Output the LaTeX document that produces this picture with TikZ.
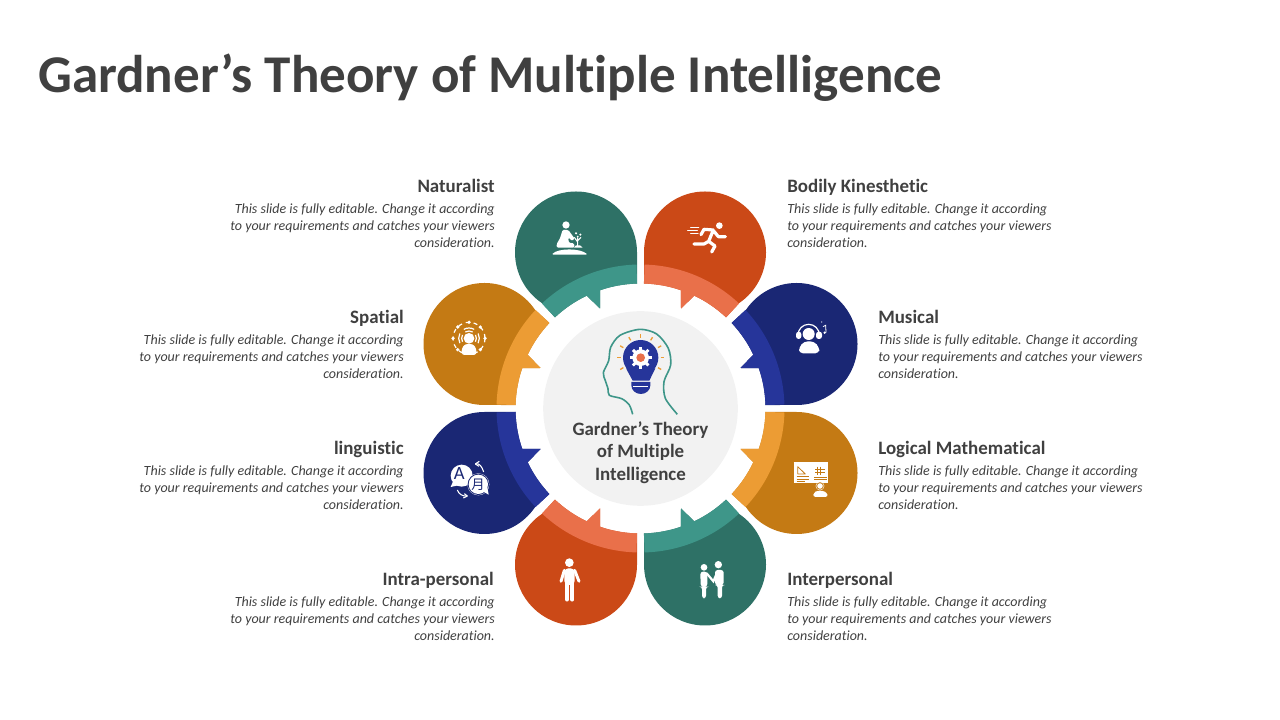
\documentclass[tikz,border=0pt]{standalone}
\usepackage{fontspec}
\setmainfont[Ligatures=NoCommon]{Carlito}
\newfontfamily\cjk{Noto Sans CJK SC}
\usetikzlibrary{positioning}
\definecolor{inktext}{HTML}{404040}
\definecolor{redDark}{HTML}{CB4917}
\definecolor{redLite}{HTML}{E9704A}
\definecolor{greenDark}{HTML}{2E7166}
\definecolor{greenLite}{HTML}{3E9689}
\definecolor{navyDark}{HTML}{1A2774}
\definecolor{navyLite}{HTML}{26359A}
\definecolor{goldDark}{HTML}{C47A14}
\definecolor{goldLite}{HTML}{EC9C34}
\definecolor{hubGrey}{HTML}{F2F2F2}
\newcommand{\bodytext}{This slide is fully editable. Change it according\\to your requirements and catches your viewers\\consideration.}
% rim of a petal, in the frame of the top right one
\newcommand{\innerrim}{(46.8:125) arc[start angle=46.8, end angle=64.5, radius=125] -- (40.5,100) -- (71.2:125) arc[start angle=71.2, end angle=88.4, radius=125]}
\tikzset{
  headbase/.style={font=\fontsize{14.2}{16}\selectfont\bfseries, text=inktext, inner sep=0pt, text height=9pt, text depth=3pt},
  headright/.style={headbase, anchor=east},
  headleft/.style={headbase, anchor=west},
  bodybase/.style={font=\fontsize{10.5}{12.75}\selectfont\itshape, text=inktext, inner sep=0pt},
  bodyright/.style={bodybase, align=right, anchor=north east},
  bodyleft/.style={bodybase, align=left, anchor=north west},
  crop/.style 2 args={shift={(#1,720-#2)}, x=.25pt, y=-.25pt},
  icon/.style={draw=white, line cap=round, line join=round, line width=2.4pt},
}
\begin{document}
\begin{tikzpicture}[x=.75pt, y=.75pt]
  \useasboundingbox (0,0) rectangle (1280,720);
  % Title
  \node[anchor=west, inner sep=0pt, font=\fontsize{39.8}{48}\selectfont\bfseries, text=inktext]
    (title) at (38,642) {Gardner’s Theory of Multiple Intelligence};

  % Petals
  \foreach \ma/\mb/\mc/\md/\dark/\lite in {
      1/0/0/1/redDark/redLite, 0/1/1/0/navyDark/navyLite,
      0/-1/1/0/goldDark/goldLite, 1/0/0/-1/greenDark/greenLite,
      -1/0/0/-1/redDark/redLite, 0/-1/-1/0/navyDark/navyLite,
      0/1/-1/0/goldDark/goldLite, -1/0/0/1/greenDark/greenLite} {
    \begin{scope}[shift={(640.5,311.5)}, cm={\ma,\mb,\mc,\md,(0,0)}]
      \fill[\dark] (3.5,156) arc[start angle=180, end angle=-56, radius=61]
        -- \innerrim -- cycle;
      \fill[\lite] (88.4:144) arc[start angle=88.4, end angle=46.8, radius=144]
        -- \innerrim -- cycle;
    \end{scope}
  }

  % Hub
  \node[circle, fill=hubGrey, minimum size=146pt, inner sep=0pt] (hub) at (640.5,311.5) {};
  \node[font=\fontsize{14.2}{16.9}\selectfont\bfseries, text=inktext, align=center, inner sep=0pt]
    (hubtext) at (640.5,267.5) {Gardner’s Theory\\of Multiple\\Intelligence};

  % Hub icon
  \begin{scope}[crop={540}{310}]
    \draw[greenLite, line width=1.2pt, line join=round] plot[smooth, tension=.5] coordinates {
      (278,313) (268,285) (245,266) (208,256) (204,236) (196,212) (190,188) (206,152)
      (212,112) (240,76) (300,58) (350,72) (385,115) (392,165) (372,215) (376,265) (412,313)};
    \foreach \ang in {-30,0,30,60,90,120,150,180,210}
      \draw[goldLite, line width=1pt] (302,143) ++(-\ang:60) -- ++(-\ang:11);
    \fill[navyLite] (302,143) circle[radius=53];
    \fill[navyLite] (258,175) -- (346,175) -- (328,212) -- (278,212) -- cycle;
    \fill[navyLite] (274,216) -- (331,216) -- (331,226) arc[start angle=0, end angle=180, x radius=28.5, y radius=26] -- cycle;
    \draw[white, line width=1pt] (280,229) -- (324,229);
    \foreach \ang in {0,45,...,315}
      \draw[white, line width=2.2pt] (302,143) ++(\ang:22) -- ++(\ang:11);
    \fill[white] (302,143) circle[radius=25];
    \fill[redLite] (302,143) circle[radius=13];
  \end{scope}

  % Naturalist icon
  \begin{scope}[crop={500}{180}]
    \fill[white] (198,135) circle[radius=11];
    \fill[white, rounded corners=1pt] (188,149) -- (205,150) -- (224,176) -- (216,183) -- (205,172)
      -- (206,188) -- (222,190) -- (224,203) -- (170,203) -- (170,192) -- (180,175) -- cycle;
    \fill[white, rounded corners=1pt] (155,224) .. controls (175,204) and (240,204) .. (263,224) -- cycle;
    \fill[white] (222,203) -- (248,203) -- (240,196) -- (228,196) -- cycle;
    \draw[white, line width=.8pt] (233,198) -- (233,172) (233,186) -- (223,172) (233,182) -- (243,172);
    \fill[white] (228,160) circle[radius=3.5] (241,164) circle[radius=3.5] (233,170) circle[radius=3];
  \end{scope}

  % Bodily kinesthetic icon
  \begin{scope}[crop={500}{180}]
    \fill[white] (658,137) circle[radius=10];
    \draw[icon] (640,150) -- (626,184) (640,150) -- (612,148) -- (603,164)
      (642,154) -- (655,170) -- (676,170) (626,184) -- (612,192) -- (582,192)
      (626,184) -- (645,198) -- (635,216);
    \draw[white, line width=.9pt, line cap=round] (572,143) -- (596,143) (563,152) -- (592,152) (572,160) -- (594,160);
  \end{scope}

  % Spatial and linguistic icons
  \begin{scope}[crop={410}{270}]
    \fill[white] (177,205) circle[radius=16];
    \fill[white, rounded corners=2pt] (155,255) -- (155,235) -- (165,222) -- (189,222) -- (199,235) -- (199,255) -- cycle;
    \draw[white, line width=.9pt, dashed] (177,205) circle[radius=48];
    \foreach \ang in {45,0,-45,-90,-135,180,135}
      \fill[white] (177,205) ++(\ang:48) circle[radius=5.5];
    \foreach \rad in {22,31} {
      \draw[white, line width=.9pt] (177,205) ++(-60:\rad) arc[start angle=-60, end angle=-120, radius=\rad];
      \draw[white, line width=.9pt] (177,205) ++(-28:\rad) arc[start angle=-28, end angle=28, radius=\rad];
      \draw[white, line width=.9pt] (177,205) ++(152:\rad) arc[start angle=152, end angle=208, radius=\rad];
    }
    \fill[white] (155,617) circle[radius=33];
    \fill[white] (130,632) -- (122,651) -- (150,645) -- cycle;
    \fill[white] (205,643) circle[radius=33];
    \fill[navyDark] (205,643) circle[radius=32];
    \fill[white] (205,643) circle[radius=29];
    \fill[white] (220,665) -- (236,674) -- (232,652) -- cycle;
    \node[text=navyDark, font=\fontsize{14}{14}\selectfont, inner sep=0pt] (letterA) at (148,612) {A};
    \node[text=navyDark, font=\fontsize{10}{10}\selectfont\cjk, inner sep=0pt] (letterB) at (204,644) {月};
    \draw[white, line width=.8pt] (196,582) .. controls (208,578) and (216,590) .. (221,606);
    \draw[white, line width=.8pt] (196,582) -- (208,574) (196,582) -- (207,589);
    \draw[white, line width=.8pt] (142,660) .. controls (146,672) and (158,680) .. (172,678);
    \draw[white, line width=.8pt] (172,678) -- (163,671) (172,678) -- (160,684);
  \end{scope}

  % Musical and logical icons
  \begin{scope}[crop={730}{270}]
    \fill[white] (236,192) circle[radius=18];
    \fill[white, rounded corners=3pt] (207,250) -- (207,232) -- (222,214) -- (252,214) -- (268,232) -- (268,250) -- cycle;
    \draw[white, line width=.9pt] (204,195) arc[start angle=180, end angle=360, radius=32];
    \fill[white, rounded corners=2pt] (198,185) rectangle (214,207);
    \fill[white, rounded corners=2pt] (258,185) rectangle (276,207);
    \draw[white, line width=.6pt] (288,188) -- (287,166) -- (279,170);
    \fill[white] (284,188) circle[radius=4];
    \fill[white] (275,156) circle[radius=2];
    \fill[white] (193,578) rectangle (293,640);
    \draw[white, line width=.6pt] (191,576) -- (295,576);
    \draw[goldDark, line width=.6pt, line join=round] (203,590) -- (203,612) -- (226,612) -- cycle;
    \draw[goldDark, line width=.6pt] (200,620) -- (237,620) (200,627) -- (237,627) (200,634) -- (225,634);
    \draw[goldDark, line width=.6pt] (262,590) -- (262,616) (272,590) -- (272,616) (256,597) -- (285,597) (256,607) -- (285,607);
    \draw[goldDark, line width=.6pt] (253,622) -- (290,622) (253,629) -- (290,629);
    \fill[white] (270,648) circle[radius=13];
    \draw[goldDark, line width=.6pt] (270,648) circle[radius=10];
    \fill[white, rounded corners=2pt] (249,681) -- (251,668) -- (262,662) -- (278,662) -- (291,668) -- (294,681) -- cycle;
  \end{scope}

  % Intra-personal icon
  \begin{scope}[crop={500}{490}]
    \fill[white] (208,218) circle[radius=13];
    \fill[white, rounded corners=3pt] (193,235) -- (224,235) -- (224,285) -- (193,285) -- cycle;
    \draw[white, line width=2.2pt, line cap=round] (193,241) -- (183,274) (224,241) -- (237,274);
    \draw[white, line width=2.8pt, line cap=round] (201,280) -- (201,329) (217,280) -- (217,329);
  \end{scope}

  % Interpersonal icon
  \begin{scope}[crop={500}{490}]
    \fill[white] (612,232) circle[radius=10];
    \fill[white] (655,224) circle[radius=11];
    \fill[white, rounded corners=2pt] (601,245) -- (622,245) -- (622,290) -- (618,290) -- (618,325) -- (606,325) -- (606,290) -- (602,290) -- cycle;
    \fill[white, rounded corners=2pt] (645,240) -- (671,240) -- (671,285) -- (666,285) -- (666,325) -- (653,325) -- (653,285) -- (645,285) -- cycle;
    \draw[white, line width=1.6pt, line cap=round] (620,250) -- (640,274) -- (652,246);
  \end{scope}

  % Left labels
  \node[headright] (naturalist) at (495,531.5) {Naturalist};
  \node[below=4.8pt of naturalist.south east, bodyright] (naturalistbody) {\bodytext};
  \node[headright] (spatial) at (404,400.5) {Spatial};
  \node[below=4.8pt of spatial.south east, bodyright] (spatialbody) {\bodytext};
  \node[headright] (linguistic) at (404,269.5) {linguistic};
  \node[below=4.8pt of linguistic.south east, bodyright] (linguisticbody) {\bodytext};
  \node[headright] (intra) at (494,138.5) {Intra-personal};
  \node[below=4.8pt of intra.south east, xshift=.75pt, bodyright] (intrabody) {\bodytext};

  % Right labels
  \node[headleft] (bodily) at (787,531.5) {Bodily Kinesthetic};
  \node[below=4.8pt of bodily.south west, bodyleft] (bodilybody) {\bodytext};
  \node[headleft] (musical) at (878,400.5) {Musical};
  \node[below=4.8pt of musical.south west, bodyleft] (musicalbody) {\bodytext};
  \node[headleft] (logical) at (878,269.5) {Logical Mathematical};
  \node[below=4.8pt of logical.south west, bodyleft] (logicalbody) {\bodytext};
  \node[headleft] (inter) at (787,138.5) {Interpersonal};
  \node[below=4.8pt of inter.south west, bodyleft] (interbody) {\bodytext};
\end{tikzpicture}
\end{document}
